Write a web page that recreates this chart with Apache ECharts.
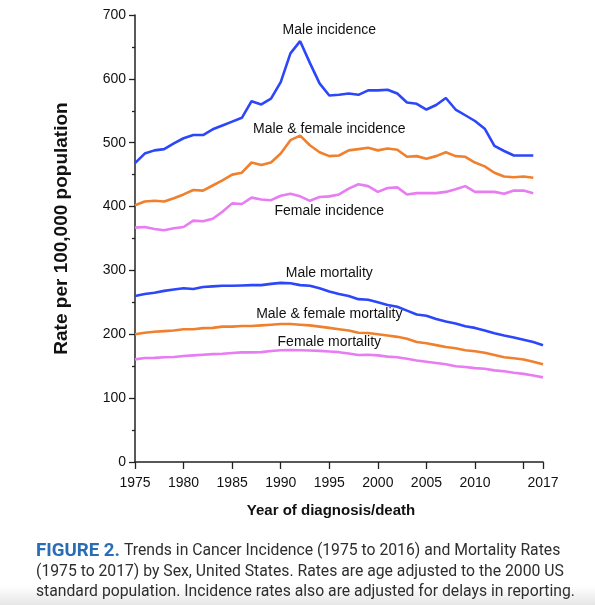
<!DOCTYPE html>
<html>
<head>
<meta charset="utf-8">
<title>Cancer incidence and mortality</title>
<script src="https://cdn.jsdelivr.net/npm/echarts@6/dist/echarts.min.js"></script>
<style>
  html, body { margin: 0; padding: 0; background: #fff; }
  #main { width: 595px; height: 605px; }
</style>
</head>
<body>
<div id="main"></div>
<script type="text/javascript">
// years
var incYears = [];
for (var y = 1975; y <= 2016; y++) incYears.push(y);
var mortYears = incYears.concat([2017]);

// incidence, 1975-2016
var maleInc = [468, 483, 488, 490, 499, 507, 512, 512, 521, 527, 533, 539, 565, 560, 569, 595, 640, 659, 625, 593, 574,
               575, 577, 575, 582, 582, 583, 577, 563, 561, 552, 559, 570, 552, 543, 534, 522, 495, 487, 480, 480, 480];
var bothInc = [402, 408, 409, 408, 413, 419, 426, 425, 433, 441, 450, 453, 469, 465, 469, 483, 504, 511, 496, 485, 479,
               480, 488, 490, 492, 488, 491, 489, 478, 479, 475, 479, 485, 479, 478, 469, 463, 453, 447, 446, 447, 445];
var femaleInc = [367, 368, 365, 363, 366, 368, 378, 377, 381, 392, 405, 404, 414, 411, 410, 417, 420, 416, 409, 415, 416,
                 419, 428, 435, 432, 423, 429, 430, 419, 421, 421, 421, 423, 427, 432, 423, 423, 423, 420, 425, 425, 421];

// mortality, 1975-2017
var maleMort = [260, 263, 265, 268, 270, 272, 271, 274, 275, 276, 276, 276.5, 277, 277, 279, 280.5, 280, 277, 276, 272, 267,
                263, 260, 255, 254, 250, 246, 243, 237, 231, 229, 224, 220, 217, 212.5, 210, 206, 201.5, 198, 195, 191.5, 188, 183];
var bothMort = [200, 202.5, 204, 205, 206, 208, 208, 209.6, 210, 212, 212, 213, 213, 214, 215, 216, 216, 215, 214, 212, 210,
                208, 206, 202.5, 202, 200, 198, 196, 193, 188, 186, 183, 180, 178, 175, 173.5, 171, 167.5, 164, 162.5, 160.6, 157, 153];
var femaleMort = [160.7, 162.8, 163, 164, 164.5, 166, 167, 168, 169, 169.5, 170.6, 171.6, 171.6, 172, 173.8, 175, 175.5, 175, 174.5, 174, 173,
                  172, 170, 167.5, 168, 167, 165, 164, 161.7, 159, 157, 155, 153, 150, 148.7, 147, 146, 143.5, 142, 139.7, 138, 135.6, 132.5];

var xTickValues = [1975, 1980, 1985, 1990, 1995, 2000, 2005, 2010, 2015, 2017];
var xLabelValues = [1975, 1980, 1985, 1990, 1995, 2000, 2005, 2010, 2017];

var captionLines = [
    'Trends in Cancer Incidence (1975 to 2016) and Mortality Rates',
    '(1975 to 2017) by Sex, United States. Rates are age adjusted to the 2000 US',
    'standard population. Incidence rates also are adjusted for delays in reporting.'
];

var BLUE = '#2c46fa', ORANGE = '#f0802e', PINK = '#e87cf2';
var FONT = 'Liberation Sans, Arial, sans-serif';
var CAP_FONT = 'Roboto, sans-serif';

function pairs(xs, vs) {
    var out = [];
    for (var i = 0; i < vs.length; i++) out.push([xs[i], vs[i]]);
    return out;
}

// text next to each curve, anchored in data coordinates
function tag(text, coord) {
    return {
        symbol: 'circle',
        symbolSize: 1,
        silent: true,
        itemStyle: { color: 'rgba(0,0,0,0)' },
        label: { show: true, position: 'inside', color: '#111', fontSize: 14, fontFamily: FONT, formatter: text },
        data: [{ coord: coord }]
    };
}

function line(name, color, xs, vs, label, coord) {
    return {
        name: name,
        type: 'line',
        data: pairs(xs, vs),
        symbol: 'none',
        lineStyle: { color: color, width: 2.6 },
        markPoint: tag(label, coord),
        z: 3
    };
}

// squeeze the caption so its longest line fits the same width as the reference
var ctx = document.createElement('canvas').getContext('2d');
ctx.font = '16px ' + CAP_FONT;
var capScale = 539 / ctx.measureText(captionLines[2]).width;

var myChart = echarts.init(document.getElementById('main'), null, { renderer: 'canvas' });

var option = {
    backgroundColor: '#fff',
    animation: false,
    textStyle: { fontFamily: FONT },
    grid: { left: 135, right: 52, top: 15, bottom: 143 },
    xAxis: {
        type: 'value',
        min: 1975,
        max: 2017,
        interval: 5,
        name: 'Year of diagnosis/death',
        nameLocation: 'middle',
        nameGap: 41,
        nameTextStyle: { color: '#111', fontSize: 15, fontWeight: 'bold', fontFamily: FONT, padding: [0, 16, 0, 0] },
        axisLine: { lineStyle: { color: '#222', width: 1.5 } },
        axisTick: { show: true, length: 7, customValues: xTickValues, lineStyle: { color: '#222', width: 1.3 } },
        axisLabel: { customValues: xLabelValues, color: '#111', fontSize: 14, margin: 14, fontFamily: FONT,
                     formatter: function (v) { return String(v); } },
        splitLine: { show: false }
    },
    yAxis: {
        type: 'value',
        min: 0,
        max: 700,
        interval: 100,
        name: 'Rate per 100,000 population',
        nameLocation: 'middle',
        nameGap: 64,
        nameTextStyle: { color: '#111', fontSize: 19, fontWeight: 'bold', fontFamily: FONT, padding: [0, 0, 0, 20] },
        axisLine: { show: true, lineStyle: { color: '#222', width: 1.5 } },
        axisTick: { show: true, length: 6, lineStyle: { color: '#222', width: 1.3 } },
        minorTick: { show: true, splitNumber: 2, length: 3, lineStyle: { color: '#222', width: 1.3 } },
        axisLabel: { color: '#111', fontSize: 14, margin: 9, fontFamily: FONT },
        splitLine: { show: false }
    },
    series: [
        line('Male incidence', BLUE, incYears, maleInc, 'Male incidence', [1995, 677]),
        line('Male & female incidence', ORANGE, incYears, bothInc, 'Male & female incidence', [1995, 522]),
        line('Female incidence', PINK, incYears, femaleInc, 'Female incidence', [1995, 393]),
        line('Male mortality', BLUE, mortYears, maleMort, 'Male mortality', [1995, 295]),
        line('Male & female mortality', ORANGE, mortYears, bothMort, 'Male & female mortality', [1995, 231]),
        line('Female mortality', PINK, mortYears, femaleMort, 'Female mortality', [1995, 188])
    ],
    graphic: [
        {
            type: 'rect',
            left: 0, top: 586,
            shape: { width: 595, height: 19 },
            style: {
                fill: new echarts.graphic.LinearGradient(0, 0, 0, 1, [
                    { offset: 0, color: '#ffffff' }, { offset: 1, color: '#e6e6e6' }
                ])
            },
            silent: true,
            z: 0
        },
        {
            type: 'text',
            x: 36, y: 541,
            scaleX: capScale,
            silent: true,
            style: {
                text: '{fig|FIGURE 2.} {t|' + captionLines[0] + '}\n{t|' + captionLines[1] + '}\n{t|' + captionLines[2] + '}',
                fontFamily: CAP_FONT,
                fontSize: 16,
                lineHeight: 20.5,
                rich: {
                    fig: { fill: '#2a6db3', fontSize: 19, fontWeight: 'bold', fontFamily: CAP_FONT, lineHeight: 20.5 },
                    t: { fill: '#2e2e2e', fontSize: 16, fontFamily: CAP_FONT, lineHeight: 20.5 }
                }
            }
        }
    ]
};

myChart.setOption(option);
</script>
</body>
</html>
